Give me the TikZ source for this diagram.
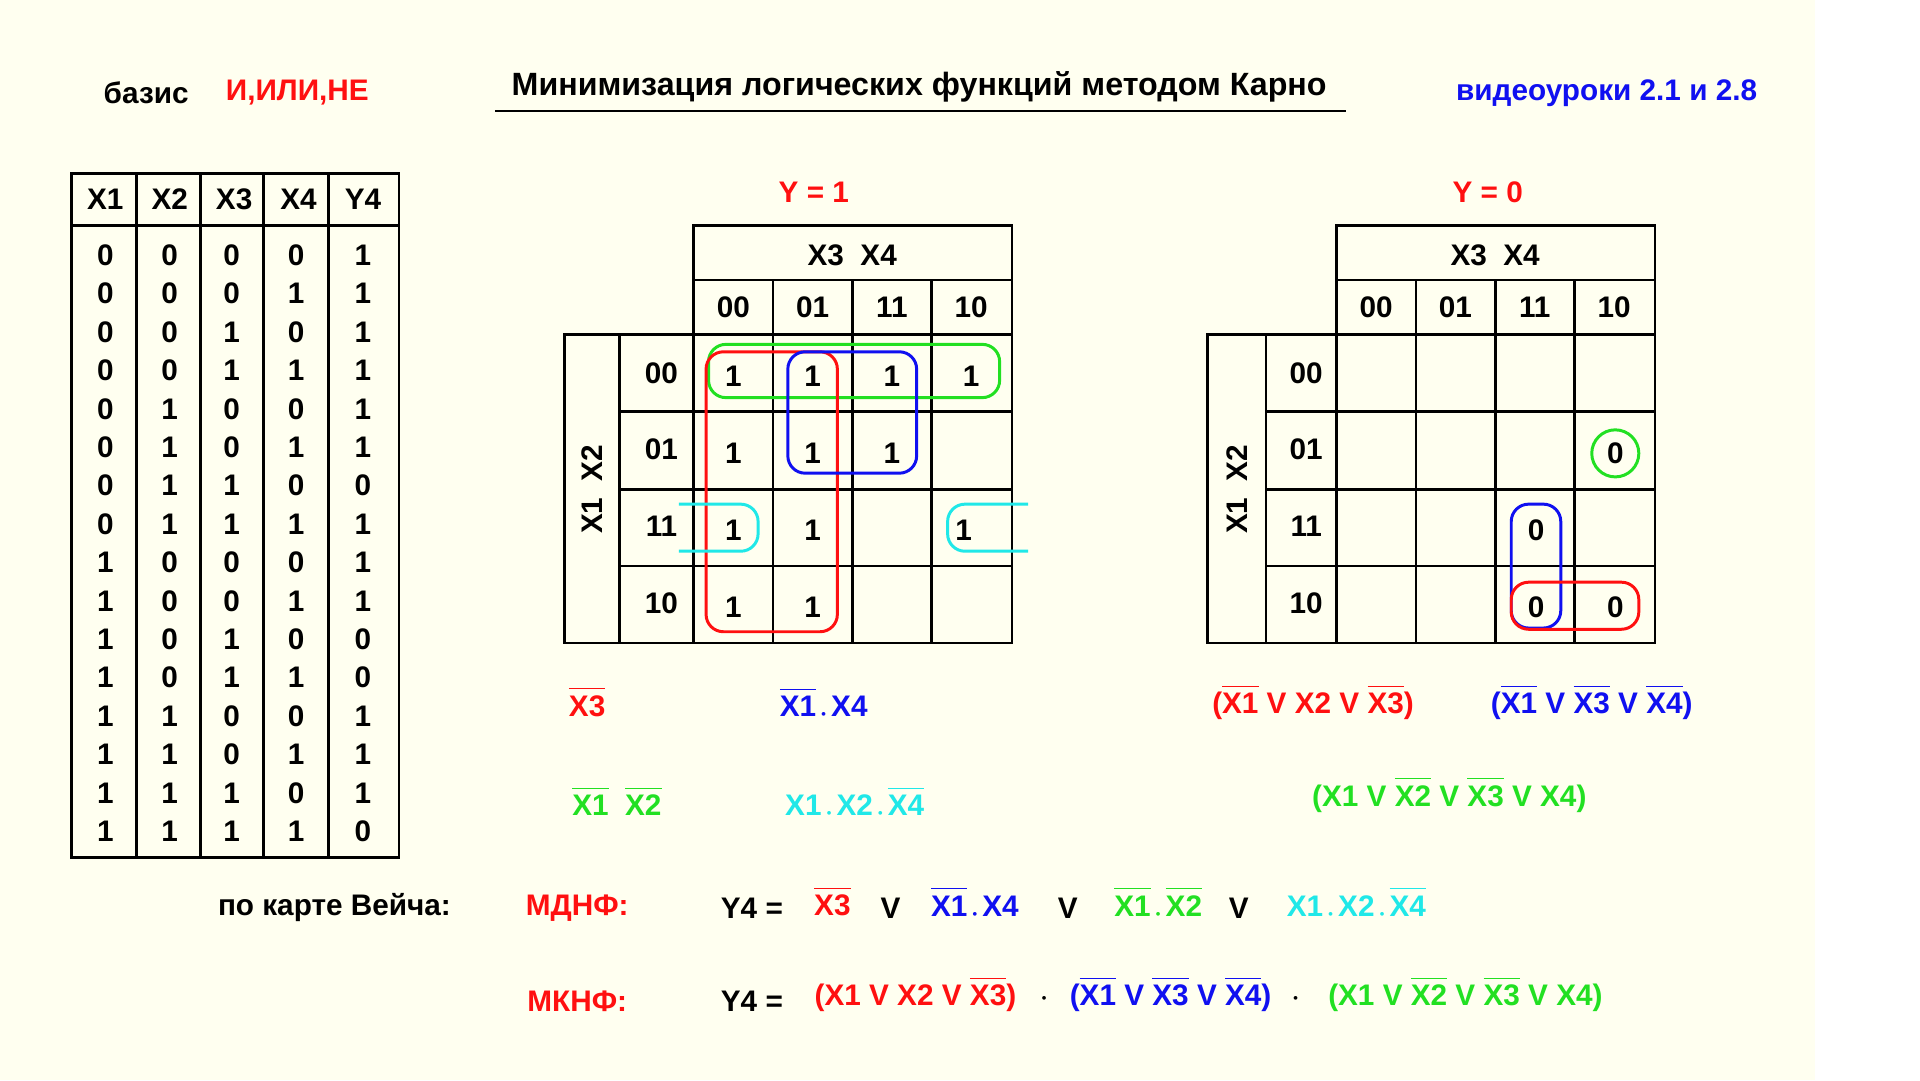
\documentclass[tikz,border=0pt]{standalone}
\usepackage{fontspec}
\setmainfont{Liberation Sans}
\usetikzlibrary{positioning}
\definecolor{bgcream}{HTML}{FFFFF0}
\definecolor{kred}{HTML}{FF1010}
\definecolor{kblue}{HTML}{1010F0}
\definecolor{kgreen}{HTML}{22E022}
\definecolor{kcyan}{HTML}{20E8E8}
\newcommand{\nb}[1]{\ensuremath{\overline{\hbox{\rule{0pt}{21pt}#1}}}}
\newcommand{\dt}{\,{\scriptsize$\bullet$}\,}
\begin{document}
\begin{tikzpicture}[x=1pt,y=-1pt,
    txt/.style={font=\fontsize{24}{28}\selectfont\bfseries, inner sep=1pt},
    grid/.style={line width=2.2pt},
    loop/.style={line width=2.4pt, rounded corners=14pt}]
    \fill[white] (0,0) rectangle (1550,872);
    \fill[bgcream] (0,0) rectangle (1465,872);
    \useasboundingbox (0,0) rectangle (1550,872);

    % header
    \node (basis) [txt] at (118,75) {базис};
    \node (basisv) [txt, text=kred] at (240,75) {И,ИЛИ,НЕ};
    \node (title) [txt, font=\fontsize{26}{30}\selectfont\bfseries] at (742,70) {Минимизация логических функций методом Карно};
    \draw[line width=1.6pt] (400,90) -- (1087,90);
    \node (video) [txt, text=kblue] at (1297,75) {видеоуроки 2.1 и 2.8};

    % truth table
    \draw[grid] (58,140) rectangle (322,692);
    \draw[grid] (58,182) -- (322,182);
    \foreach \x in {110,162,213,265} \draw[grid] (\x,140) -- (\x,692);
    \foreach \h [count=\i from 0] in {X1,X2,X3,X4,Y4}
        \node[txt] at ({85+52*\i},161) {\h};
    \foreach \y [count=\r from 0] in {1,1,1,1,1,1,0,1,1,1,0,0,1,1,1,0} {
        \pgfmathtruncatemacro{\a}{div(\r,8)}
        \pgfmathtruncatemacro{\b}{mod(div(\r,4),2)}
        \pgfmathtruncatemacro{\c}{mod(div(\r,2),2)}
        \pgfmathtruncatemacro{\d}{mod(\r,2)}
        \node[txt] at (85,{206+31*\r}) {\a};
        \node[txt] at (137,{206+31*\r}) {\b};
        \node[txt] at (187,{206+31*\r}) {\c};
        \node[txt] at (239,{206+31*\r}) {\d};
        \node[txt] at (293,{206+31*\r}) {\y};
    }

    % karnaugh grids
    \foreach \dx/\lw in {0/44,519/47} {
        \draw[grid] (\dx+560,182) rectangle (\dx+817,519);
        \draw[grid] (\dx+456,270) rectangle (\dx+560,519);
        \draw[grid] (\dx+456+\lw,270) -- (\dx+456+\lw,519);
        \draw[grid] (\dx+560,226) -- (\dx+817,226);
        \foreach \x in {624,688,752} \draw[grid] (\dx+\x,226) -- (\dx+\x,519);
        \foreach \y in {270,332,395,457} \draw[grid] (\dx+456+\lw,\y) -- (\dx+817,\y);
        \node[txt] at (\dx+688,206) {X3\ \ X4};
        \node[txt, rotate=90] at (\dx+456+\lw/2,395) {X1\ \ X2};
        \foreach \v [count=\i from 0] in {00,01,11,10} {
            \node[txt] at ({\dx+592+64*\i},248) {\v};
            \node[txt] at ({\dx+508+\lw/2+4},{301+62*\i}) {\v};
        }
    }
    \node (y1) [txt, text=kred] at (657,155) {Y = 1};
    \node (y0) [txt, text=kred] at (1201,155) {Y = 0};

    % map Y=1 values
    \foreach \x/\y in {592/304,656/304,720/304,784/304,592/366,656/366,720/366,
        592/428,656/428,778/428,592/490,656/490}
        \node[txt] at (\x,\y) {1};
    \draw[loop, kgreen] (572,278) rectangle (807,321);
    \draw[loop, kred] (570,284) rectangle (676,510);
    \draw[loop, kblue] (636,284) rectangle (740,382);
    \draw[loop, kcyan] (548,407) -- (612,407) -- (612,445) -- (548,445);
    \draw[loop, kcyan] (830,407) -- (765,407) -- (765,445) -- (830,445);

    % map Y=0 values
    \foreach \x/\y in {1304/366,1240/428,1240/490,1304/490}
        \node[txt] at (\x,\y) {0};
    \draw[line width=2.4pt, kgreen] (1304,366) circle (19);
    \draw[loop, kblue] (1220,407) rectangle (1260,507);
    \draw[loop, kred] (1220,470) rectangle (1323,508);

    % groups
    \node[txt, text=kred] at (474,567) {\nb{X3}};
    \node[txt, text=kblue] at (665,567) {\nb{X1}\dt X4};
    \node[txt, text=kgreen] at (498,647) {\nb{X1}\ \ \nb{X2}};
    \node[txt, text=kcyan] at (690,647) {X1\dt X2\dt\nb{X4}};
    \node[txt, text=kred] at (1060,567) {(\nb{X1} V X2 V \nb{X3})};
    \node[txt, text=kblue] at (1285,567) {(\nb{X1} V \nb{X3} V \nb{X4})};
    \node[txt, text=kgreen] at (1170,642) {(X1 V \nb{X2} V \nb{X3} V X4)};

    % results
    \node (veitch) [txt] at (270,733) {по карте Вейча:};
    \node (mdnf) [txt, text=kred] at (466,733) {МДНФ:};
    \node [txt] at (607,733) {Y4 =};
    \node [txt, text=kred] at (672,728) {\nb{X3}};
    \node [txt] at (719,733) {V};
    \node [txt, text=kblue] at (787,728) {\nb{X1}\dt X4};
    \node [txt] at (862,733) {V};
    \node [txt, text=kgreen] at (935,728) {\nb{X1}\dt\nb{X2}};
    \node [txt] at (1000,733) {V};
    \node [txt, text=kcyan] at (1095,728) {X1\dt X2\dt\nb{X4}};
    \node (mknf) [txt, text=kred] at (466,808) {МКНФ:};
    \node [txt] at (607,808) {Y4 =};
    \node [txt, text=kred] at (739,803) {(X1 V X2 V \nb{X3})};
    \node [txt] at (843,806) {\scriptsize$\bullet$};
    \node [txt, text=kblue] at (945,803) {(\nb{X1} V \nb{X3} V \nb{X4})};
    \node [txt] at (1046,806) {\scriptsize$\bullet$};
    \node [txt, text=kgreen] at (1183,803) {(X1 V \nb{X2} V \nb{X3} V X4)};
\end{tikzpicture}
\end{document}
